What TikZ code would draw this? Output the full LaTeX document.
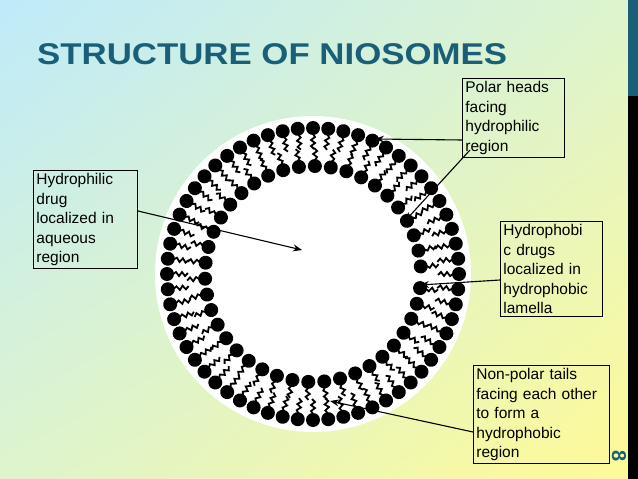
\documentclass[tikz,border=0pt]{standalone}
\usepackage{fontspec}
\setmainfont{Liberation Sans}
\usetikzlibrary{arrows.meta,shadings}
\definecolor{teal1}{RGB}{25,95,120}
\definecolor{bgA}{RGB}{190,234,250}
\definecolor{bgB}{RGB}{255,250,150}
\definecolor{bgC}{RGB}{222,244,205}
\tikzset{lbl/.style={draw=black,line width=0.8pt,inner sep=3pt,align=left,anchor=north west,font=\fontsize{15.5}{19.5}\selectfont},
ptr/.style={draw=black,line width=1.1pt,-{Stealth[length=9pt,width=7pt]}}}
\begin{document}
\begin{tikzpicture}[x=1pt,y=-1pt]
\useasboundingbox (0,0) rectangle (638,479);
\shade[upper left=bgA,lower right=bgB,upper right=bgC,lower left=bgC] (0,0) rectangle (638,479);
\fill[teal1] (628,0) rectangle (638,96);
\fill[black] (628,96) rectangle (638,479);
\node[anchor=base west,text=teal1,font=\fontsize{30}{32}\bfseries,inner sep=0,xscale=1.16] (title) at (37,64) {STRUCTURE OF NIOSOMES};
\node[text=teal1,font=\fontsize{20}{22}\bfseries,rotate=-90,inner sep=0] (pg) at (619,456) {8};
% vesicle
\fill[white] (313,274) circle (158);
\foreach \a in {0,6,...,354}{
  \begin{scope}[shift={(313,274)},rotate=\a]
    \fill (146,0) circle (7);
    \draw[line width=1.8pt] (140,0) -- (137,2) -- (134,-2) -- (131,2) -- (128,-2) -- (125,1);
  \end{scope}}
\foreach \a in {4,12.5,...,360}{
  \begin{scope}[shift={(313,274)},rotate=\a]
    \fill (108,0) circle (7);
    \draw[line width=1.8pt] (114,0) -- (117,2) -- (120,-2) -- (123,2) -- (126,-1);
  \end{scope}}
% labels
\node[lbl,text width=96pt] (polar) at (462,78) {Polar heads\\facing\\hydrophilic\\region};
\node[lbl,text width=98pt] (drug) at (33,170) {Hydrophilic\\drug\\localized in\\aqueous\\region};
\node[lbl,text width=96pt] (phob) at (500,221) {Hydrophobi\\c drugs\\localized in\\hydrophobic\\lamella};
\node[lbl,text width=130pt] (tails) at (473,365) {Non-polar tails\\facing each other\\to form a\\hydrophobic\\region};
\coordinate (p1) at (462,140);
\coordinate (p2) at (470,150);
\coordinate (d1) at (138,211);
\coordinate (h1) at (500,280);
\coordinate (t1) at (473,432);
\draw[ptr] (p1) -- (375,139);
\draw[ptr] (p2) -- (405,221);
\draw[ptr] (d1) -- (302,250);
\draw[ptr] (h1) -- (420,285);
\draw[ptr] (t1) -- (330,401);
\end{tikzpicture}
\end{document}
